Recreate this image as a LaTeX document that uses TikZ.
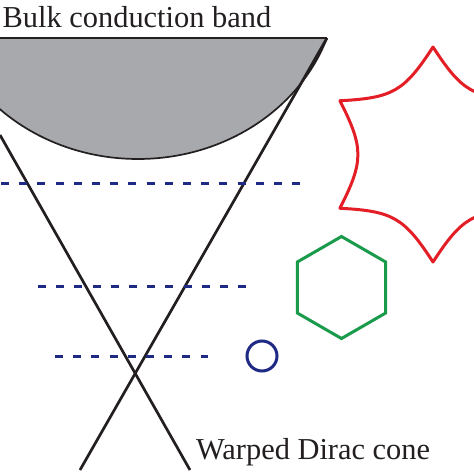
\documentclass[tikz,border=0pt]{standalone}
\usepackage{fontspec}
\setmainfont{Liberation Serif}
\definecolor{bandgray}{HTML}{A7A9AC}
\definecolor{inkblack}{HTML}{231F20}
\definecolor{levelnavy}{HTML}{1E2A84}
\definecolor{hexgreen}{HTML}{1A9A4B}
\definecolor{starred}{HTML}{E31E26}
\begin{document}
\begin{tikzpicture}[x=1pt,y=-1pt,
  cone/.style={draw=inkblack, line width=2.7pt},
  levelline/.style={draw=levelnavy, line width=3pt, dash pattern=on 8pt off 10.2pt},
  warpside/.style={bend left=27, looseness=1.26},
  txt/.style={font=\fontsize{30.4}{36}\selectfont, text=inkblack, inner sep=0pt, anchor=base west}]
\useasboundingbox (0,0) rectangle (474,474);
\clip (0,0) rectangle (474,474);
\fill[white] (0,0) rectangle (474,474);
% bulk conduction band
\begin{scope}
\clip (0,38) rectangle (474,474);
\filldraw[fill=bandgray, draw=inkblack, line width=1.7pt] (138,-21) ellipse [x radius=200pt, y radius=180pt];
\end{scope}
\coordinate (bandL) at (0,38);
\coordinate (bandR) at (327,38);
\draw[inkblack, line width=1.7pt] (bandL) -- (bandR);
% Dirac cone
\coordinate (a1) at (0,135);
\coordinate (a2) at (190,470);
\coordinate (b2) at (80,470);
\draw[cone] (a1) -- (a2);
\draw[cone] (bandR) -- (b2);
% energy levels
\coordinate (d1s) at (1,183);  \coordinate (d1e) at (300,183);
\coordinate (d2s) at (38,286); \coordinate (d2e) at (246,286);
\coordinate (d3s) at (55,356); \coordinate (d3e) at (208,356);
\draw[levelline] (d1s) -- (d1e);
\draw[levelline] (d2s) -- (d2e);
\draw[levelline] (d3s) -- (d3e);
% Fermi surfaces
\node[draw=levelnavy, line width=3pt, circle, minimum size=30pt, inner sep=0pt] (fs1) at (262,356) {};
\draw[hexgreen, line width=3pt] (341.5,236.5) -- (385.7,262) -- (385.7,313) -- (341.5,338.5) -- (297.3,313) -- (297.3,262) -- cycle;
\coordinate (k1) at (433,47);
\coordinate (k2) at (339.9,100.75);
\coordinate (k3) at (339.9,208.25);
\coordinate (k4) at (433,262);
\coordinate (k5) at (526.1,208.25);
\coordinate (k6) at (526.1,100.75);
\draw[starred, line width=3pt, line join=round]
  (k1) to[warpside] (k2) to[warpside] (k3) to[warpside] (k4)
  to[warpside] (k5) to[warpside] (k6) to[warpside] (k1) -- cycle;
% labels
\node[txt] (bulk) at (2.5,27) {Bulk conduction band};
\node[txt] (warp) at (196,459) {Warped Dirac cone};
\end{tikzpicture}
\end{document}
